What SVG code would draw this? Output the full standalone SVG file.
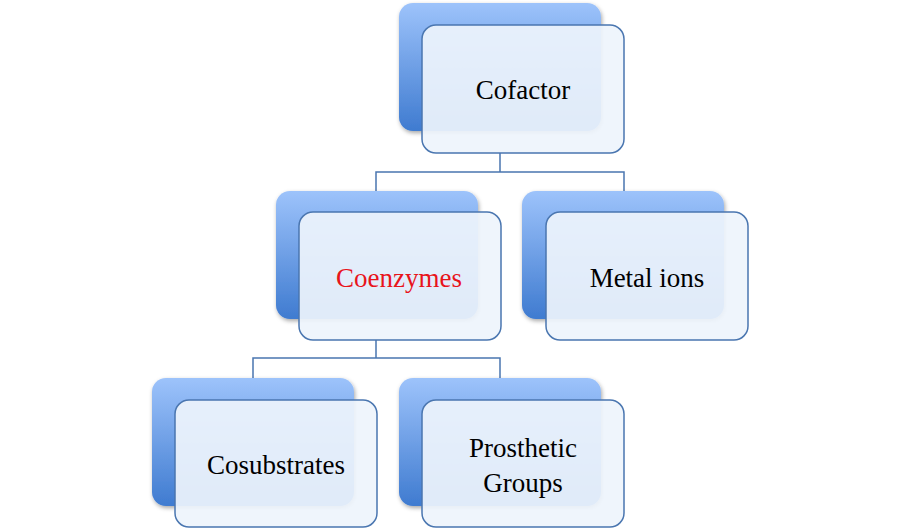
<svg xmlns="http://www.w3.org/2000/svg" width="900" height="529" viewBox="0 0 900 529">
<defs>
<linearGradient id="g" x1="0" y1="0" x2="0" y2="1">
<stop offset="0" stop-color="#9dc3fb"/><stop offset="1" stop-color="#3f7bd0"/>
</linearGradient>
<filter id="sh" x="-10%" y="-10%" width="130%" height="130%"><feDropShadow dx="1" dy="2" stdDeviation="2" flood-color="#000" flood-opacity="0.35"/></filter>
<style>
.back{fill:url(#g);filter:url(#sh)}
.front{fill:#eef4fc;fill-opacity:0.92;stroke:#4a76b0;stroke-width:1.5}
.t{font-family:"Liberation Serif",serif;font-size:27px;fill:#000;text-anchor:middle}
.c{fill:none;stroke:#4a76b0;stroke-width:1.5}
</style>
</defs>
<g id="connectors">
<path class="c" d="M500 153V172H376V191M500 172H624V212"/>
<path class="c" d="M376 340V358H253V378M376 358H500V400"/>
</g>
<g id="cofactor"><rect class="back" x="399" y="3" width="202" height="128" rx="14"/><rect class="front" x="422" y="25" width="202" height="128" rx="14"/><text class="t" x="523" y="99">Cofactor</text></g>
<g id="coenzymes"><rect class="back" x="276" y="191" width="202" height="128" rx="14"/><rect class="front" x="299" y="212" width="202" height="128" rx="14"/><text class="t" x="399" y="287" fill="#e8141b" style="fill:#e8141b">Coenzymes</text></g>
<g id="metal"><rect class="back" x="522" y="191" width="202" height="128" rx="14"/><rect class="front" x="546" y="212" width="202" height="128" rx="14"/><text class="t" x="647" y="287">Metal ions</text></g>
<g id="cosub"><rect class="back" x="152" y="378" width="202" height="128" rx="14"/><rect class="front" x="175" y="400" width="202" height="127" rx="14"/><text class="t" x="276" y="474">Cosubstrates</text></g>
<g id="prosthetic"><rect class="back" x="399" y="378" width="202" height="128" rx="14"/><rect class="front" x="422" y="400" width="202" height="127" rx="14"/><text class="t" x="523" y="457">Prosthetic</text><text class="t" x="523" y="492">Groups</text></g>
</svg>
